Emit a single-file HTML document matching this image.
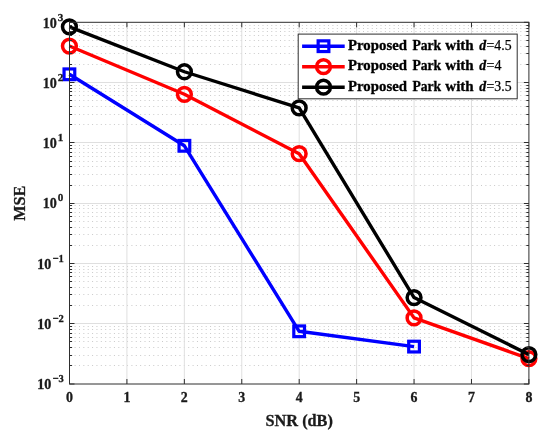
<!DOCTYPE html>
<html lang="en"><head><meta charset="utf-8"><title>MSE vs SNR</title>
<style>html,body{margin:0;padding:0;background:#fff;}body{width:550px;height:439px;overflow:hidden;}svg{display:block;}text{font-family:"Liberation Serif","DejaVu Serif",serif;font-weight:bold;fill:#1a1a1a;stroke:#1a1a1a;stroke-width:0.3px;}.lg{fill:#000;stroke:#000;}.rg{stroke-width:0.25px;}</style>
</head><body>
<svg width="550" height="439" viewBox="0 0 550 439">
<rect x="0" y="0" width="550" height="439" fill="#ffffff"/>
<g stroke="#cacaca" stroke-width="1" stroke-dasharray="1 3.37" fill="none">
<line x1="74.60" y1="365.50" x2="528.90" y2="365.50"/>
<line x1="74.60" y1="355.50" x2="528.90" y2="355.50"/>
<line x1="74.60" y1="347.50" x2="528.90" y2="347.50"/>
<line x1="74.60" y1="341.50" x2="528.90" y2="341.50"/>
<line x1="74.60" y1="337.50" x2="528.90" y2="337.50"/>
<line x1="74.60" y1="333.50" x2="528.90" y2="333.50"/>
<line x1="74.60" y1="329.50" x2="528.90" y2="329.50"/>
<line x1="74.60" y1="326.50" x2="528.90" y2="326.50"/>
<line x1="74.60" y1="305.50" x2="528.90" y2="305.50"/>
<line x1="74.60" y1="294.50" x2="528.90" y2="294.50"/>
<line x1="74.60" y1="287.50" x2="528.90" y2="287.50"/>
<line x1="74.60" y1="281.50" x2="528.90" y2="281.50"/>
<line x1="74.60" y1="276.50" x2="528.90" y2="276.50"/>
<line x1="74.60" y1="272.50" x2="528.90" y2="272.50"/>
<line x1="74.60" y1="269.50" x2="528.90" y2="269.50"/>
<line x1="74.60" y1="266.50" x2="528.90" y2="266.50"/>
<line x1="74.60" y1="245.50" x2="528.90" y2="245.50"/>
<line x1="74.60" y1="234.50" x2="528.90" y2="234.50"/>
<line x1="74.60" y1="227.50" x2="528.90" y2="227.50"/>
<line x1="74.60" y1="221.50" x2="528.90" y2="221.50"/>
<line x1="74.60" y1="216.50" x2="528.90" y2="216.50"/>
<line x1="74.60" y1="212.50" x2="528.90" y2="212.50"/>
<line x1="74.60" y1="208.50" x2="528.90" y2="208.50"/>
<line x1="74.60" y1="205.50" x2="528.90" y2="205.50"/>
<line x1="74.60" y1="185.50" x2="528.90" y2="185.50"/>
<line x1="74.60" y1="174.50" x2="528.90" y2="174.50"/>
<line x1="74.60" y1="166.50" x2="528.90" y2="166.50"/>
<line x1="74.60" y1="161.50" x2="528.90" y2="161.50"/>
<line x1="74.60" y1="156.50" x2="528.90" y2="156.50"/>
<line x1="74.60" y1="152.50" x2="528.90" y2="152.50"/>
<line x1="74.60" y1="148.50" x2="528.90" y2="148.50"/>
<line x1="74.60" y1="145.50" x2="528.90" y2="145.50"/>
<line x1="74.60" y1="124.50" x2="528.90" y2="124.50"/>
<line x1="74.60" y1="114.50" x2="528.90" y2="114.50"/>
<line x1="74.60" y1="106.50" x2="528.90" y2="106.50"/>
<line x1="74.60" y1="100.50" x2="528.90" y2="100.50"/>
<line x1="74.60" y1="95.50" x2="528.90" y2="95.50"/>
<line x1="74.60" y1="91.50" x2="528.90" y2="91.50"/>
<line x1="74.60" y1="88.50" x2="528.90" y2="88.50"/>
<line x1="74.60" y1="85.50" x2="528.90" y2="85.50"/>
<line x1="74.60" y1="64.50" x2="528.90" y2="64.50"/>
<line x1="74.60" y1="53.50" x2="528.90" y2="53.50"/>
<line x1="74.60" y1="46.50" x2="528.90" y2="46.50"/>
<line x1="74.60" y1="40.50" x2="528.90" y2="40.50"/>
<line x1="74.60" y1="35.50" x2="528.90" y2="35.50"/>
<line x1="74.60" y1="31.50" x2="528.90" y2="31.50"/>
<line x1="74.60" y1="28.50" x2="528.90" y2="28.50"/>
<line x1="74.60" y1="25.50" x2="528.90" y2="25.50"/>
</g>
<g stroke="#dfdfdf" stroke-width="1" fill="none">
<line x1="126.92" y1="22.30" x2="126.92" y2="384.00"/>
<line x1="184.35" y1="22.30" x2="184.35" y2="384.00"/>
<line x1="241.77" y1="22.30" x2="241.77" y2="384.00"/>
<line x1="299.20" y1="22.30" x2="299.20" y2="384.00"/>
<line x1="356.62" y1="22.30" x2="356.62" y2="384.00"/>
<line x1="414.05" y1="22.30" x2="414.05" y2="384.00"/>
<line x1="471.47" y1="22.30" x2="471.47" y2="384.00"/>
<line x1="69.50" y1="323.50" x2="528.90" y2="323.50"/>
<line x1="69.50" y1="263.50" x2="528.90" y2="263.50"/>
<line x1="69.50" y1="203.50" x2="528.90" y2="203.50"/>
<line x1="69.50" y1="142.50" x2="528.90" y2="142.50"/>
<line x1="69.50" y1="82.50" x2="528.90" y2="82.50"/>
</g>
<g stroke="#0000ff" fill="none">
<polyline points="69.40,74.30 184.40,145.80 299.15,331.30 414.05,346.60" stroke-width="3.4" stroke-linejoin="round"/>
<rect x="64.05" y="68.95" width="10.7" height="10.7" stroke-width="3.2"/>
<rect x="179.05" y="140.45" width="10.7" height="10.7" stroke-width="3.2"/>
<rect x="293.80" y="325.95" width="10.7" height="10.7" stroke-width="3.2"/>
<rect x="408.70" y="341.25" width="10.7" height="10.7" stroke-width="3.2"/>
</g>
<g stroke="#ff0000" fill="none">
<polyline points="69.40,46.05 184.40,94.30 299.15,153.70 414.05,317.90 528.90,358.60" stroke-width="3.4" stroke-linejoin="round"/>
<circle cx="69.40" cy="46.05" r="6.9" stroke-width="3.5"/>
<circle cx="184.40" cy="94.30" r="6.9" stroke-width="3.5"/>
<circle cx="299.15" cy="153.70" r="6.9" stroke-width="3.5"/>
<circle cx="414.05" cy="317.90" r="6.9" stroke-width="3.5"/>
<circle cx="528.90" cy="358.60" r="6.9" stroke-width="3.5"/>
</g>
<g stroke="#000000" fill="none">
<polyline points="69.40,26.85 184.40,71.75 299.15,107.90 414.05,297.60 528.90,354.60" stroke-width="3.4" stroke-linejoin="round"/>
<circle cx="69.40" cy="26.85" r="6.9" stroke-width="3.5"/>
<circle cx="184.40" cy="71.75" r="6.9" stroke-width="3.5"/>
<circle cx="299.15" cy="107.90" r="6.9" stroke-width="3.5"/>
<circle cx="414.05" cy="297.60" r="6.9" stroke-width="3.5"/>
<circle cx="528.90" cy="354.60" r="6.9" stroke-width="3.5"/>
</g>
<g stroke="#2e2e2e" stroke-width="1" fill="none">
<line x1="69.50" y1="384.00" x2="69.50" y2="379.00"/>
<line x1="69.50" y1="22.30" x2="69.50" y2="27.30"/>
<line x1="126.92" y1="384.00" x2="126.92" y2="379.00"/>
<line x1="126.92" y1="22.30" x2="126.92" y2="27.30"/>
<line x1="184.35" y1="384.00" x2="184.35" y2="379.00"/>
<line x1="184.35" y1="22.30" x2="184.35" y2="27.30"/>
<line x1="241.77" y1="384.00" x2="241.77" y2="379.00"/>
<line x1="241.77" y1="22.30" x2="241.77" y2="27.30"/>
<line x1="299.20" y1="384.00" x2="299.20" y2="379.00"/>
<line x1="299.20" y1="22.30" x2="299.20" y2="27.30"/>
<line x1="356.62" y1="384.00" x2="356.62" y2="379.00"/>
<line x1="356.62" y1="22.30" x2="356.62" y2="27.30"/>
<line x1="414.05" y1="384.00" x2="414.05" y2="379.00"/>
<line x1="414.05" y1="22.30" x2="414.05" y2="27.30"/>
<line x1="471.47" y1="384.00" x2="471.47" y2="379.00"/>
<line x1="471.47" y1="22.30" x2="471.47" y2="27.30"/>
<line x1="528.90" y1="384.00" x2="528.90" y2="379.00"/>
<line x1="528.90" y1="22.30" x2="528.90" y2="27.30"/>
<line x1="69.50" y1="384.00" x2="74.50" y2="384.00"/>
<line x1="528.90" y1="384.00" x2="523.90" y2="384.00"/>
<line x1="69.50" y1="365.50" x2="72.10" y2="365.50"/>
<line x1="528.90" y1="365.50" x2="526.30" y2="365.50"/>
<line x1="69.50" y1="355.50" x2="72.10" y2="355.50"/>
<line x1="528.90" y1="355.50" x2="526.30" y2="355.50"/>
<line x1="69.50" y1="347.50" x2="72.10" y2="347.50"/>
<line x1="528.90" y1="347.50" x2="526.30" y2="347.50"/>
<line x1="69.50" y1="341.50" x2="72.10" y2="341.50"/>
<line x1="528.90" y1="341.50" x2="526.30" y2="341.50"/>
<line x1="69.50" y1="337.50" x2="72.10" y2="337.50"/>
<line x1="528.90" y1="337.50" x2="526.30" y2="337.50"/>
<line x1="69.50" y1="333.50" x2="72.10" y2="333.50"/>
<line x1="528.90" y1="333.50" x2="526.30" y2="333.50"/>
<line x1="69.50" y1="329.50" x2="72.10" y2="329.50"/>
<line x1="528.90" y1="329.50" x2="526.30" y2="329.50"/>
<line x1="69.50" y1="326.50" x2="72.10" y2="326.50"/>
<line x1="528.90" y1="326.50" x2="526.30" y2="326.50"/>
<line x1="69.50" y1="323.50" x2="74.50" y2="323.50"/>
<line x1="528.90" y1="323.50" x2="523.90" y2="323.50"/>
<line x1="69.50" y1="305.50" x2="72.10" y2="305.50"/>
<line x1="528.90" y1="305.50" x2="526.30" y2="305.50"/>
<line x1="69.50" y1="294.50" x2="72.10" y2="294.50"/>
<line x1="528.90" y1="294.50" x2="526.30" y2="294.50"/>
<line x1="69.50" y1="287.50" x2="72.10" y2="287.50"/>
<line x1="528.90" y1="287.50" x2="526.30" y2="287.50"/>
<line x1="69.50" y1="281.50" x2="72.10" y2="281.50"/>
<line x1="528.90" y1="281.50" x2="526.30" y2="281.50"/>
<line x1="69.50" y1="276.50" x2="72.10" y2="276.50"/>
<line x1="528.90" y1="276.50" x2="526.30" y2="276.50"/>
<line x1="69.50" y1="272.50" x2="72.10" y2="272.50"/>
<line x1="528.90" y1="272.50" x2="526.30" y2="272.50"/>
<line x1="69.50" y1="269.50" x2="72.10" y2="269.50"/>
<line x1="528.90" y1="269.50" x2="526.30" y2="269.50"/>
<line x1="69.50" y1="266.50" x2="72.10" y2="266.50"/>
<line x1="528.90" y1="266.50" x2="526.30" y2="266.50"/>
<line x1="69.50" y1="263.50" x2="74.50" y2="263.50"/>
<line x1="528.90" y1="263.50" x2="523.90" y2="263.50"/>
<line x1="69.50" y1="245.50" x2="72.10" y2="245.50"/>
<line x1="528.90" y1="245.50" x2="526.30" y2="245.50"/>
<line x1="69.50" y1="234.50" x2="72.10" y2="234.50"/>
<line x1="528.90" y1="234.50" x2="526.30" y2="234.50"/>
<line x1="69.50" y1="227.50" x2="72.10" y2="227.50"/>
<line x1="528.90" y1="227.50" x2="526.30" y2="227.50"/>
<line x1="69.50" y1="221.50" x2="72.10" y2="221.50"/>
<line x1="528.90" y1="221.50" x2="526.30" y2="221.50"/>
<line x1="69.50" y1="216.50" x2="72.10" y2="216.50"/>
<line x1="528.90" y1="216.50" x2="526.30" y2="216.50"/>
<line x1="69.50" y1="212.50" x2="72.10" y2="212.50"/>
<line x1="528.90" y1="212.50" x2="526.30" y2="212.50"/>
<line x1="69.50" y1="208.50" x2="72.10" y2="208.50"/>
<line x1="528.90" y1="208.50" x2="526.30" y2="208.50"/>
<line x1="69.50" y1="205.50" x2="72.10" y2="205.50"/>
<line x1="528.90" y1="205.50" x2="526.30" y2="205.50"/>
<line x1="69.50" y1="203.50" x2="74.50" y2="203.50"/>
<line x1="528.90" y1="203.50" x2="523.90" y2="203.50"/>
<line x1="69.50" y1="185.50" x2="72.10" y2="185.50"/>
<line x1="528.90" y1="185.50" x2="526.30" y2="185.50"/>
<line x1="69.50" y1="174.50" x2="72.10" y2="174.50"/>
<line x1="528.90" y1="174.50" x2="526.30" y2="174.50"/>
<line x1="69.50" y1="166.50" x2="72.10" y2="166.50"/>
<line x1="528.90" y1="166.50" x2="526.30" y2="166.50"/>
<line x1="69.50" y1="161.50" x2="72.10" y2="161.50"/>
<line x1="528.90" y1="161.50" x2="526.30" y2="161.50"/>
<line x1="69.50" y1="156.50" x2="72.10" y2="156.50"/>
<line x1="528.90" y1="156.50" x2="526.30" y2="156.50"/>
<line x1="69.50" y1="152.50" x2="72.10" y2="152.50"/>
<line x1="528.90" y1="152.50" x2="526.30" y2="152.50"/>
<line x1="69.50" y1="148.50" x2="72.10" y2="148.50"/>
<line x1="528.90" y1="148.50" x2="526.30" y2="148.50"/>
<line x1="69.50" y1="145.50" x2="72.10" y2="145.50"/>
<line x1="528.90" y1="145.50" x2="526.30" y2="145.50"/>
<line x1="69.50" y1="142.50" x2="74.50" y2="142.50"/>
<line x1="528.90" y1="142.50" x2="523.90" y2="142.50"/>
<line x1="69.50" y1="124.50" x2="72.10" y2="124.50"/>
<line x1="528.90" y1="124.50" x2="526.30" y2="124.50"/>
<line x1="69.50" y1="114.50" x2="72.10" y2="114.50"/>
<line x1="528.90" y1="114.50" x2="526.30" y2="114.50"/>
<line x1="69.50" y1="106.50" x2="72.10" y2="106.50"/>
<line x1="528.90" y1="106.50" x2="526.30" y2="106.50"/>
<line x1="69.50" y1="100.50" x2="72.10" y2="100.50"/>
<line x1="528.90" y1="100.50" x2="526.30" y2="100.50"/>
<line x1="69.50" y1="95.50" x2="72.10" y2="95.50"/>
<line x1="528.90" y1="95.50" x2="526.30" y2="95.50"/>
<line x1="69.50" y1="91.50" x2="72.10" y2="91.50"/>
<line x1="528.90" y1="91.50" x2="526.30" y2="91.50"/>
<line x1="69.50" y1="88.50" x2="72.10" y2="88.50"/>
<line x1="528.90" y1="88.50" x2="526.30" y2="88.50"/>
<line x1="69.50" y1="85.50" x2="72.10" y2="85.50"/>
<line x1="528.90" y1="85.50" x2="526.30" y2="85.50"/>
<line x1="69.50" y1="82.50" x2="74.50" y2="82.50"/>
<line x1="528.90" y1="82.50" x2="523.90" y2="82.50"/>
<line x1="69.50" y1="64.50" x2="72.10" y2="64.50"/>
<line x1="528.90" y1="64.50" x2="526.30" y2="64.50"/>
<line x1="69.50" y1="53.50" x2="72.10" y2="53.50"/>
<line x1="528.90" y1="53.50" x2="526.30" y2="53.50"/>
<line x1="69.50" y1="46.50" x2="72.10" y2="46.50"/>
<line x1="528.90" y1="46.50" x2="526.30" y2="46.50"/>
<line x1="69.50" y1="40.50" x2="72.10" y2="40.50"/>
<line x1="528.90" y1="40.50" x2="526.30" y2="40.50"/>
<line x1="69.50" y1="35.50" x2="72.10" y2="35.50"/>
<line x1="528.90" y1="35.50" x2="526.30" y2="35.50"/>
<line x1="69.50" y1="31.50" x2="72.10" y2="31.50"/>
<line x1="528.90" y1="31.50" x2="526.30" y2="31.50"/>
<line x1="69.50" y1="28.50" x2="72.10" y2="28.50"/>
<line x1="528.90" y1="28.50" x2="526.30" y2="28.50"/>
<line x1="69.50" y1="25.50" x2="72.10" y2="25.50"/>
<line x1="528.90" y1="25.50" x2="526.30" y2="25.50"/>
<line x1="69.50" y1="22.30" x2="74.50" y2="22.30"/>
<line x1="528.90" y1="22.30" x2="523.90" y2="22.30"/>
<rect x="69.50" y="22.30" width="459.40" height="361.70"/>
</g>
<rect x="298.2" y="34.1" width="219.00" height="64.70" fill="#ffffff" stroke="#2e2e2e" stroke-width="1"/>
<g stroke="#0000ff" fill="none"><line x1="302.1" y1="46.2" x2="344.7" y2="46.2" stroke-width="3.4"/>
<rect x="318.15" y="40.85" width="10.7" height="10.7" stroke-width="3.2"/>
</g>
<text x="348.0" y="49.8" font-size="13.8" class="lg"><tspan x="348.0" textLength="59" lengthAdjust="spacingAndGlyphs">Proposed</tspan> <tspan x="412.4" textLength="28.8" lengthAdjust="spacingAndGlyphs">Park</tspan> <tspan x="445.3" textLength="28.4" lengthAdjust="spacingAndGlyphs">with</tspan> <tspan x="479.2" font-style="italic">d</tspan><tspan x="486.6" class="rg" font-weight="normal" textLength="25.0" lengthAdjust="spacingAndGlyphs">=4.5</tspan></text>
<g stroke="#ff0000" fill="none"><line x1="302.1" y1="66.7" x2="344.7" y2="66.7" stroke-width="3.4"/>
<circle cx="323.5" cy="66.7" r="6.9" stroke-width="3.5"/>
</g>
<text x="348.0" y="70.3" font-size="13.8" class="lg"><tspan x="348.0" textLength="59" lengthAdjust="spacingAndGlyphs">Proposed</tspan> <tspan x="412.4" textLength="28.8" lengthAdjust="spacingAndGlyphs">Park</tspan> <tspan x="445.3" textLength="28.4" lengthAdjust="spacingAndGlyphs">with</tspan> <tspan x="479.2" font-style="italic">d</tspan><tspan x="486.6" class="rg" font-weight="normal" textLength="14.9" lengthAdjust="spacingAndGlyphs">=4</tspan></text>
<g stroke="#000000" fill="none"><line x1="302.1" y1="87.2" x2="344.7" y2="87.2" stroke-width="3.4"/>
<circle cx="323.5" cy="87.2" r="6.9" stroke-width="3.5"/>
</g>
<text x="348.0" y="90.8" font-size="13.8" class="lg"><tspan x="348.0" textLength="59" lengthAdjust="spacingAndGlyphs">Proposed</tspan> <tspan x="412.4" textLength="28.8" lengthAdjust="spacingAndGlyphs">Park</tspan> <tspan x="445.3" textLength="28.4" lengthAdjust="spacingAndGlyphs">with</tspan> <tspan x="479.2" font-style="italic">d</tspan><tspan x="486.6" class="rg" font-weight="normal" textLength="25.0" lengthAdjust="spacingAndGlyphs">=3.5</tspan></text>
<text x="69.50" y="402.1" font-size="13.9" text-anchor="middle">0</text>
<text x="126.92" y="402.1" font-size="13.9" text-anchor="middle">1</text>
<text x="184.35" y="402.1" font-size="13.9" text-anchor="middle">2</text>
<text x="241.77" y="402.1" font-size="13.9" text-anchor="middle">3</text>
<text x="299.20" y="402.1" font-size="13.9" text-anchor="middle">4</text>
<text x="356.62" y="402.1" font-size="13.9" text-anchor="middle">5</text>
<text x="414.05" y="402.1" font-size="13.9" text-anchor="middle">6</text>
<text x="471.47" y="402.1" font-size="13.9" text-anchor="middle">7</text>
<text x="528.90" y="402.1" font-size="13.9" text-anchor="middle">8</text>
<text x="63.7" y="389.20" font-size="14.1" text-anchor="end">10<tspan font-size="11.1" dx="1.0" dy="-7.0" textLength="11.3" lengthAdjust="spacingAndGlyphs">−3</tspan></text>
<text x="63.7" y="328.92" font-size="14.1" text-anchor="end">10<tspan font-size="11.1" dx="1.0" dy="-7.0" textLength="11.3" lengthAdjust="spacingAndGlyphs">−2</tspan></text>
<text x="63.7" y="268.63" font-size="14.1" text-anchor="end">10<tspan font-size="11.1" dx="1.0" dy="-7.0" textLength="11.3" lengthAdjust="spacingAndGlyphs">−1</tspan></text>
<text x="63.3" y="208.35" font-size="14.1" text-anchor="end">10<tspan font-size="11.1" dx="1.0" dy="-7.0">0</tspan></text>
<text x="63.3" y="148.07" font-size="14.1" text-anchor="end">10<tspan font-size="11.1" dx="1.0" dy="-7.0">1</tspan></text>
<text x="63.3" y="87.78" font-size="14.1" text-anchor="end">10<tspan font-size="11.1" dx="1.0" dy="-7.0">2</tspan></text>
<text x="63.3" y="27.50" font-size="14.1" text-anchor="end">10<tspan font-size="11.1" dx="1.0" dy="-7.0">3</tspan></text>
<text x="299.2" y="425.8" font-size="16.3" text-anchor="middle" class="xl">SNR (dB)</text>
<text transform="translate(25.1,203.2) rotate(-90)" font-size="16.3" text-anchor="middle" class="yl">MSE</text>
</svg></body></html>
